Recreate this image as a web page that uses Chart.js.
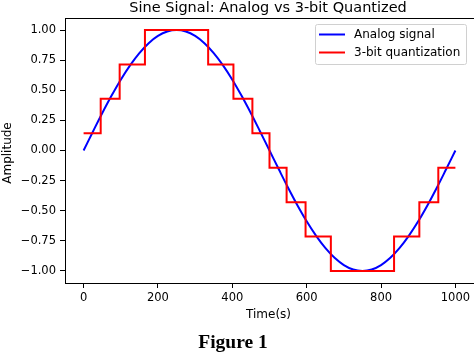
<!DOCTYPE html>
<html>
<head>
<meta charset="utf-8">
<script src="https://cdn.jsdelivr.net/npm/chart.js@4.4.1/dist/chart.umd.min.js"></script>
<style>
html,body{margin:0;padding:0;background:#fff;overflow:hidden;}
canvas{display:block;}
</style>
</head>
<body>
<canvas id="c" width="474" height="355"></canvas>
<script>
const chartTitle = 'Sine Signal: Analog vs 3-bit Quantized';
const xLabel = 'Time(s)';
const yLabel = 'Amplitude';
const caption = 'Figure 1';
const seriesNames = ['Analog signal', '3-bit quantization'];

const analogTime = [0,25,50,75,100,125,150,175,200,225,250,275,300,325,350,375,400,425,450,475,500,
  525,550,575,600,625,650,675,700,725,750,775,800,825,850,875,900,925,950,975,1000];
const analogValues = [0,0.156,0.309,0.454,0.588,0.707,0.809,0.891,0.951,0.988,1.0,0.988,0.951,0.891,0.809,0.707,0.588,0.454,0.309,0.156,0,
  -0.156,-0.309,-0.454,-0.588,-0.707,-0.809,-0.891,-0.951,-0.988,-1.0,-0.988,-0.951,-0.891,-0.809,-0.707,-0.588,-0.454,-0.309,-0.156,0];

const quantTime = [0,46,97,165,335,403,454,500,546,597,665,835,903,954,1000];
const quantLevels = [0.143,0.429,0.714,1.0,0.714,0.429,0.143,-0.143,-0.429,-0.714,-1.0,-0.714,-0.429,-0.143,-0.143];

const xTicks = [0,200,400,600,800,1000];
const yTicks = [-1,-0.75,-0.5,-0.25,0,0.25,0.5,0.75,1];

const FONT = 'DejaVu Sans';

const deco = {
  id: 'deco',
  afterDraw(chart) {
    const ctx = chart.ctx;
    const a = chart.chartArea;
    ctx.save();
    ctx.strokeStyle = '#000';
    ctx.lineWidth = 1;
    ctx.beginPath();
    ctx.moveTo(a.left, Math.round(a.top) + 0.5);
    ctx.lineTo(a.right, Math.round(a.top) + 0.5);
    ctx.stroke();
    ctx.fillStyle = '#000';
    ctx.font = '14.5px "' + FONT + '"';
    ctx.textAlign = 'center';
    ctx.textBaseline = 'alphabetic';
    ctx.fillText(chartTitle, 268, 11.5);
    ctx.font = '12px "' + FONT + '"';
    ctx.textBaseline = 'middle';
    ctx.fillText(xLabel, 268.5, 314.5);
    ctx.save();
    ctx.translate(7.5, 153);
    ctx.rotate(-Math.PI / 2);
    ctx.fillText(yLabel, 0, 0);
    ctx.restore();
    ctx.font = 'bold 19.5px "Liberation Serif"';
    ctx.textBaseline = 'alphabetic';
    ctx.fillText(caption, 233, 348);
    const bx = 315.5, by = 24.5, bw = 151, bh = 40;
    ctx.beginPath();
    if (ctx.roundRect) ctx.roundRect(bx, by, bw, bh, 2); else ctx.rect(bx, by, bw, bh);
    ctx.fillStyle = 'rgba(255,255,255,0.85)';
    ctx.fill();
    ctx.strokeStyle = '#d0d0d0';
    ctx.lineWidth = 1;
    ctx.stroke();
    const colors = ['#0000ff', '#ff0000'];
    const ys = [34.5, 52.5];
    ctx.font = '12px "' + FONT + '"';
    ctx.textAlign = 'left';
    ctx.textBaseline = 'middle';
    for (let i = 0; i < 2; i++) {
      ctx.strokeStyle = colors[i];
      ctx.lineWidth = 2;
      ctx.beginPath();
      ctx.moveTo(319, ys[i]);
      ctx.lineTo(345, ys[i]);
      ctx.stroke();
      ctx.fillStyle = '#000';
      ctx.fillText(seriesNames[i], 354, ys[i]);
    }
    ctx.restore();
  }
};

new Chart(document.getElementById('c'), {
  type: 'line',
  data: {
    datasets: [
      {
        label: seriesNames[0],
        data: analogTime.map((t, i) => ({x: t, y: analogValues[i]})),
        borderColor: '#0000ff',
        borderWidth: 2,
        pointRadius: 0,
        tension: 0.4,
        fill: false,
        order: 1
      },
      {
        label: seriesNames[1],
        data: quantTime.map((t, i) => ({x: t, y: quantLevels[i]})),
        borderColor: '#ff0000',
        borderWidth: 2,
        pointRadius: 0,
        stepped: 'before',
        fill: false,
        order: 0
      }
    ]
  },
  options: {
    responsive: false,
    animation: false,
    devicePixelRatio: 1,
    layout: {padding: {top: 18, left: 0, right: 0, bottom: 0}},
    plugins: {legend: {display: false}, tooltip: {enabled: false}, title: {display: false}},
    scales: {
      x: {
        type: 'linear',
        min: -50,
        max: 1050,
        afterBuildTicks: s => { s.ticks = xTicks.map(v => ({value: v})); },
        afterFit: s => { s.height = 72; },
        grid: {display: true, drawOnChartArea: false, drawTicks: true, tickLength: 5, tickColor: '#000', color: '#000'},
        border: {display: true, color: '#000', width: 1},
        ticks: {color: '#000', font: {family: FONT, size: 11.5}, padding: 3, maxRotation: 0,
          callback: v => String(v)}
      },
      y: {
        type: 'linear',
        min: -1.1,
        max: 1.1,
        afterBuildTicks: s => { s.ticks = yTicks.map(v => ({value: v})); },
        afterFit: s => { s.width = 65; },
        grid: {display: true, drawOnChartArea: false, drawTicks: true, tickLength: 5, tickColor: '#000', color: '#000'},
        border: {display: true, color: '#000', width: 1},
        ticks: {color: '#000', font: {family: FONT, size: 11.5}, padding: 4,
          callback: v => (v < 0 ? '\u2212' : '') + Math.abs(v).toFixed(2)}
      }
    }
  },
  plugins: [deco]
});
</script>
</body>
</html>
